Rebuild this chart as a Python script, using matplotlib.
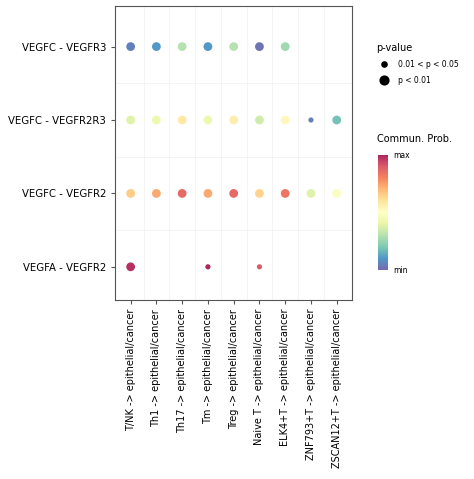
import matplotlib
matplotlib.use("Agg")
import matplotlib.pyplot as plt
import numpy as np
from matplotlib.lines import Line2D

pairs = ["VEGFA - VEGFR2", "VEGFC - VEGFR2", "VEGFC - VEGFR2R3", "VEGFC - VEGFR3"]
cells = ["T/NK -> epithelial/cancer", "Th1 -> epithelial/cancer", "Th17 -> epithelial/cancer",
         "Tm -> epithelial/cancer", "Treg -> epithelial/cancer", "Naive T -> epithelial/cancer",
         "ELK4+T -> epithelial/cancer", "ZNF793+T -> epithelial/cancer", "ZSCAN12+T -> epithelial/cancer"]
prob = {
    "VEGFC - VEGFR3": [0.05, 0.1, 0.3, 0.1, 0.3, 0.02, 0.26, None, None],
    "VEGFC - VEGFR2R3": [0.38, 0.42, 0.58, 0.42, 0.56, 0.35, 0.53, 0.05, 0.18],
    "VEGFC - VEGFR2": [0.66, 0.73, 0.86, 0.73, 0.86, 0.64, 0.83, 0.38, 0.48],
    "VEGFA - VEGFR2": [0.98, None, None, 1.0, None, 0.9, None, None, None],
}
pcls = {
    "VEGFC - VEGFR3": [2, 2, 2, 2, 2, 2, 2, None, None],
    "VEGFC - VEGFR2R3": [2, 2, 2, 2, 2, 2, 2, 1, 2],
    "VEGFC - VEGFR2": [2, 2, 2, 2, 2, 2, 2, 2, 2],
    "VEGFA - VEGFR2": [2, None, None, 1, None, 1, None, None, None],
}
sizes = {1: 14, 2: 40}

fig = plt.figure(figsize=(4.74, 4.79), dpi=100)
ax = fig.add_axes([0.243, 0.374, 0.5, 0.613])
cmap = plt.get_cmap("Spectral_r")
xs, ys, cs, ss = [], [], [], []
for j, p in enumerate(pairs):
    for i, c in enumerate(cells):
        v = prob[p][i]
        if v is None:
            continue
        xs.append(i); ys.append(j); cs.append(v); ss.append(sizes[pcls[p][i]])
sc = ax.scatter(xs, ys, c=cs, s=ss, cmap=cmap, vmin=0, vmax=1, linewidths=0, alpha=0.85, zorder=3)
ax.set_xlim(-0.6, len(cells) - 0.4)
ax.set_ylim(-0.45, len(pairs) - 0.45)
ax.set_xticks(range(len(cells)))
ax.set_xticklabels(cells, rotation=90, fontsize=7)
ax.set_yticks(range(len(pairs)))
ax.set_yticklabels(pairs, fontsize=7.3)
for i in range(len(cells) - 1):
    ax.axvline(i + 0.5, color="#f0f0f0", lw=0.5, zorder=0)
for j in range(len(pairs) - 1):
    ax.axhline(j + 0.5, color="#f0f0f0", lw=0.5, zorder=0)
for s in ax.spines.values():
    s.set_color("#555555")
ax.tick_params(length=3, color="#555555")

handles = [Line2D([], [], marker="o", ls="", color="black", markersize=np.sqrt(sizes[1])),
           Line2D([], [], marker="o", ls="", color="black", markersize=np.sqrt(sizes[2]))]
fig.legend(handles, ["0.01 < p < 0.05", "p < 0.01"], title="p-value", loc="upper left",
           bbox_to_anchor=(0.78, 0.925), frameon=False, fontsize=5.5, title_fontsize=7,
           labelspacing=0.9, alignment="left")
fig.text(0.795, 0.70, "Commun. Prob.", fontsize=7, va="bottom")
cax = fig.add_axes([0.797, 0.437, 0.022, 0.24])
cb = fig.colorbar(sc, cax=cax)
cb.solids.set_alpha(0.85)
cb.set_ticks([0, 1]); cb.set_ticklabels(["min", "max"], fontsize=5.5)
cb.ax.tick_params(length=0)
cb.outline.set_visible(False)
fig.savefig("out.png", dpi=100)
